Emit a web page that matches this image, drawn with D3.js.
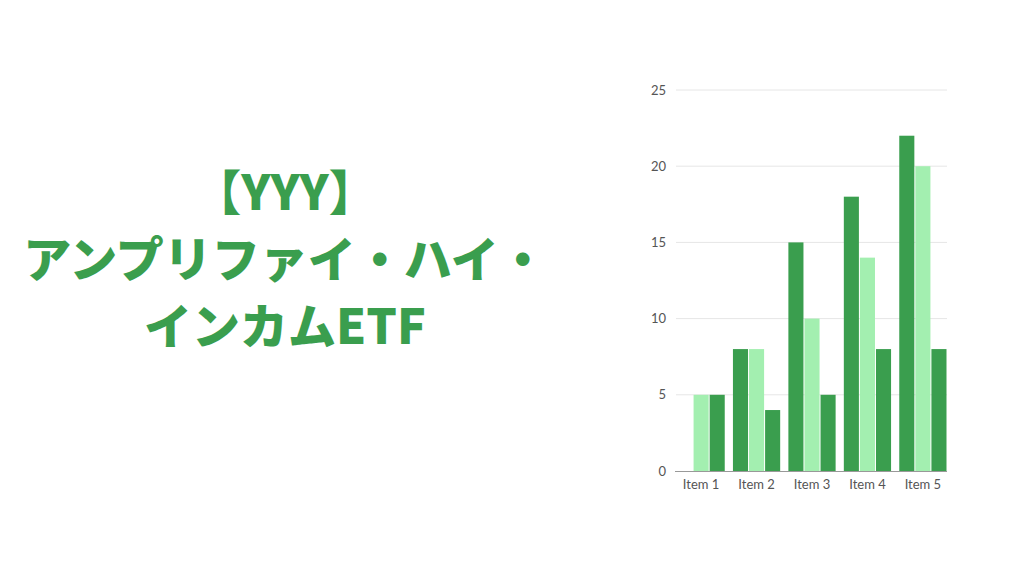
<!DOCTYPE html>
<html>
<head>
<meta charset="utf-8">
<script src="https://cdn.jsdelivr.net/npm/d3@7"></script>
<style>
  html, body { margin: 0; padding: 0; background: #fff; }
  svg { display: block; }
</style>
</head>
<body>
<svg id="chart" width="1024" height="576"></svg>
<script>
// data
const categories = ['Item 1', 'Item 2', 'Item 3', 'Item 4', 'Item 5'];
const seriesNames = ['A', 'B', 'C'];
const seriesA = [0, 8, 15, 18, 22];
const seriesB = [5, 8, 10, 14, 20];
const seriesC = [5, 4, 5, 8, 8];
const yTicks = [0, 5, 10, 15, 20, 25];
const titleLines = ['【YYY】', 'アンプリファイ・ハイ・', 'インカムETF'];

const green = '#3a9e4e';
const lightGreen = '#a3efb0';
const colors = [green, lightGreen, green];

const svg = d3.select('#chart');

// title
svg.append('g')
  .selectAll('text')
  .data(titleLines)
  .enter()
  .append('text')
  .attr('x', 285)
  .attr('y', (d, i) => 210 + i * 67)
  .attr('text-anchor', 'middle')
  .style('font-family', '"Noto Sans CJK JP", sans-serif')
  .style('font-weight', 900)
  .style('font-size', '48px')
  .style('fill', green)
  .text(d => d);

// chart
const plotLeft = 677, plotRight = 947, plotTop = 90, plotBottom = 471;

const x = d3.scaleBand()
  .domain(categories)
  .range([plotLeft, plotRight])
  .paddingInner(0.13)
  .paddingOuter(0);

const xSub = d3.scaleBand()
  .domain(seriesNames)
  .range([0, x.bandwidth()]);

const y = d3.scaleLinear()
  .domain([0, 25])
  .range([plotBottom, plotTop]);

// grid
svg.append('g')
  .selectAll('line')
  .data(yTicks.slice(1))
  .enter()
  .append('line')
  .attr('x1', plotLeft - 1)
  .attr('x2', plotRight)
  .attr('y1', d => y(d))
  .attr('y2', d => y(d))
  .attr('stroke', '#e6e6e6')
  .attr('stroke-width', 1);

const yAxis = svg.append('g')
  .attr('transform', `translate(${plotLeft - 1},0)`)
  .call(d3.axisLeft(y).tickValues(yTicks).tickSize(0).tickPadding(10));
yAxis.select('.domain').remove();
yAxis.selectAll('text')
  .style('font-family', 'Lato, "Open Sans", sans-serif')
  .style('font-size', '13px')
  .style('fill', '#555');

const rows = categories.map((c, i) => ({
  cat: c,
  values: [seriesA[i], seriesB[i], seriesC[i]]
}));

const groups = svg.append('g')
  .selectAll('g')
  .data(rows)
  .enter()
  .append('g')
  .attr('transform', d => `translate(${x(d.cat)},0)`);

groups.selectAll('rect')
  .data(d => d.values.map((v, k) => ({ key: seriesNames[k], value: v, k: k })))
  .enter()
  .append('rect')
  .attr('x', d => xSub(d.key) + 0.5)
  .attr('width', xSub.bandwidth() - 1)
  .attr('y', d => y(d.value))
  .attr('height', d => y(0) - y(d.value))
  .attr('fill', d => colors[d.k]);

// baseline
svg.append('line')
  .attr('x1', plotLeft - 2)
  .attr('x2', plotRight)
  .attr('y1', y(0) + 0.5)
  .attr('y2', y(0) + 0.5)
  .attr('stroke', '#999')
  .attr('stroke-width', 1);

const xAxis = svg.append('g')
  .attr('transform', `translate(0,${plotBottom})`)
  .call(d3.axisBottom(x).tickSize(0).tickPadding(9));
xAxis.select('.domain').remove();
xAxis.selectAll('text')
  .style('font-family', 'Lato, "Open Sans", sans-serif')
  .style('font-size', '13px')
  .style('fill', '#555');
</script>
</body>
</html>
